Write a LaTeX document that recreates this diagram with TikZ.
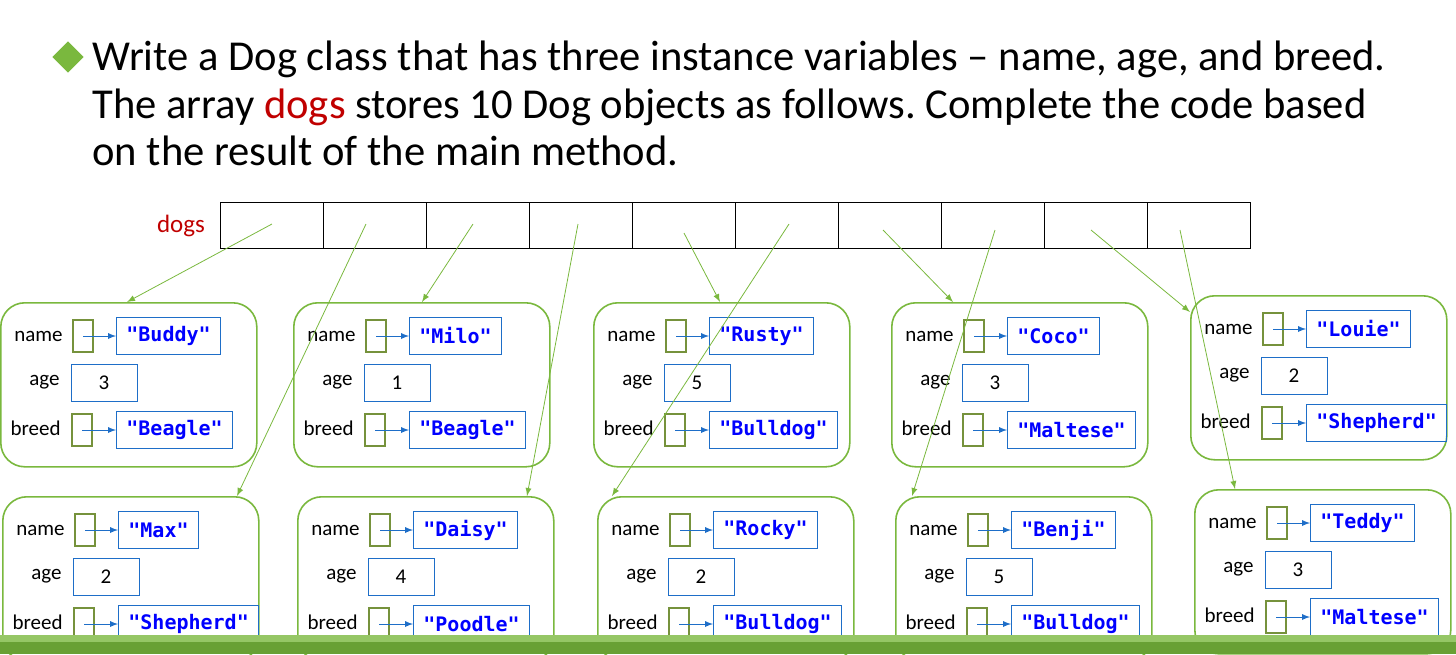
\documentclass[tikz,border=0pt]{standalone}
\usepackage{fontspec}
\setmainfont{Carlito}
\newfontfamily\codefont{DejaVu Sans Mono}
\usetikzlibrary{calc,positioning}
\frenchspacing
\definecolor{slidegreen}{RGB}{122,184,62}
\definecolor{darkbar}{RGB}{104,160,52}
\definecolor{refolive}{RGB}{118,146,60}
\definecolor{strblue}{RGB}{30,110,200}
\definecolor{arrred}{RGB}{192,0,0}
\tikzset{
  objbox/.style={draw=slidegreen,thick,rounded corners=12pt,minimum width=128pt,minimum height=82pt,anchor=north west,inner sep=0pt},
  field/.style={font=\fontsize{10.5}{12}\selectfont,anchor=east,inner sep=0pt},
  refbox/.style={draw=refolive,thick,minimum width=10pt,minimum height=16pt,inner sep=0pt},
  valbox/.style={draw=strblue,minimum width=33pt,minimum height=18.5pt,inner sep=0pt,font=\fontsize{10.5}{12}\selectfont},
  strbox/.style={draw=strblue,minimum height=18.5pt,inner xsep=5pt,inner ysep=0pt,anchor=west,text=blue,font=\codefont\bfseries\fontsize{10}{11}\selectfont},
  cell/.style={draw,minimum width=51.5pt,minimum height=23pt,inner sep=0pt,anchor=north west},
  link/.style={draw=slidegreen,-latex},
}
% one Dog object: #1 name, #2 x, #3 y, #4 name string, #5 age, #6 breed
\newcommand{\dogobj}[6]{%
  \node[objbox] (#1) at (#2,#3) {};
  \node[field] (#1n) at (#2+63,#3+34) {name};
  \node[refbox] (#1r) at (#2+83,#3+34) {};
  \node[strbox] (#1s) at (#2+116,#3+34) {"#4"};
  \draw[strblue,-latex] (#1r.center) -- (#1s.west);
  \node[field] (#1a) at (#2+60,#3+80) {age};
  \node[valbox] (#1v) at (#2+104,#3+81) {#5};
  \node[field] (#1b) at (#2+61,#3+126) {breed};
  \node[refbox] (#1q) at (#2+82,#3+128) {};
  \node[strbox] (#1t) at (#2+116,#3+128) {"#6"};
  \draw[strblue,-latex] (#1q.center) -- (#1t.west);
}

\begin{document}
\begin{tikzpicture}[x=0.5pt,y=-0.5pt]
  \useasboundingbox (0,0) rectangle (1456,654);
  % title
  \node[fill=slidegreen,rotate=45,minimum size=11pt,inner sep=0pt] (bul) at (68,57) {};
  \node[anchor=base west,inner sep=0pt,font=\fontsize{21.3}{26}\selectfont] (l1) at (92,70) {Write a Dog class that has three instance variables -- name, age, and breed.};
  \node[anchor=base west,inner sep=0pt,font=\fontsize{21.3}{26}\selectfont] (l2) at (92,118) {The array \textcolor{arrred}{dogs} stores 10 Dog objects as follows. Complete the code based};
  \node[anchor=base west,inner sep=0pt,font=\fontsize{21.3}{26}\selectfont] (l3) at (92,165) {on the result of the main method.};
  % array
  \node[text=arrred,font=\fontsize{12.5}{14}\selectfont] (dogs) at (181,226) {dogs};
  \foreach \i in {1,...,10}
    \node[cell] (c\i) at ({220+103*(\i-1)},202) {};
  % objects
  \dogobj{o1}{0}{302}{Buddy}{3}{Beagle}
  \dogobj{o2}{293}{302}{Milo}{1}{Beagle}
  \dogobj{o3}{593}{302}{Rusty}{5}{Bulldog}
  \dogobj{o4}{891}{302}{Coco}{3}{Maltese}
  \dogobj{o5}{1190}{295}{Louie}{2}{Shepherd}
  \dogobj{p1}{2}{496}{Max}{2}{Shepherd}
  \dogobj{p2}{297}{496}{Daisy}{4}{Poodle}
  \dogobj{p3}{597}{496}{Rocky}{2}{Bulldog}
  \dogobj{p4}{895}{496}{Benji}{5}{Bulldog}
  \dogobj{p5}{1194}{489}{Teddy}{3}{Maltese}
  % references
  \coordinate (s1) at (272,224); \coordinate (s2) at (366,224);
  \coordinate (s3) at (473,224); \coordinate (s4) at (578,224);
  \coordinate (s5) at (684,233); \coordinate (s6) at (789,224);
  \coordinate (s7) at (883,230); \coordinate (s8) at (995,230);
  \coordinate (s9) at (1091,230); \coordinate (s10) at (1180,230);
  \draw[link] (s1) -- (o1.north west -| 127,0);
  \draw[link] (s2) -- (p1.north west -| 237,0);
  \draw[link] (s3) -- (o2.north west -| 422,0);
  \draw[link] (s4) -- (p2.north west -| 527,0);
  \draw[link] (s5) -- (o3.north west -| 720,0);
  \draw[link] (s6) -- (p3.north west -| 612,0);
  \draw[link] (s7) -- (o4.north west -| 953,0);
  \draw[link] (s8) -- (p4.north west -| 912,0);
  \draw[link] (s9) -- (1190,312);
  \draw[link] (s10) -- (p5.north west -| 1235,0);
  % footer bar
  \fill[slidegreen!80] (0,635) rectangle (1456,642);
  \fill[darkbar] (0,642) rectangle (1456,654);
\end{tikzpicture}
\end{document}
